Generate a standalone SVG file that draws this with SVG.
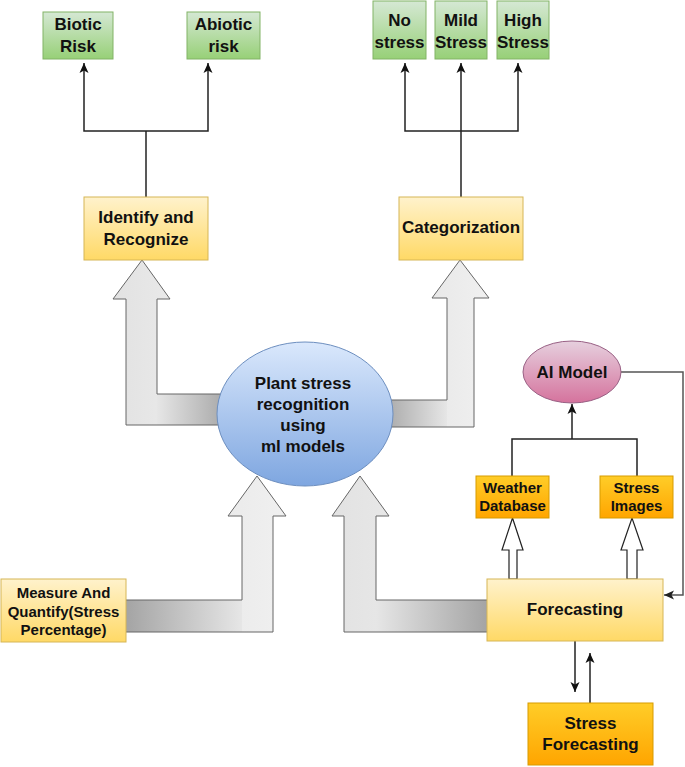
<svg xmlns="http://www.w3.org/2000/svg" width="685" height="767" viewBox="0 0 685 767">
<style>
.t{font-family:"Liberation Sans",Arial,sans-serif;font-weight:bold;font-size:17px;fill:#111;text-anchor:middle}
.s{font-size:15px}
.gb{fill:url(#gGreen);stroke:#82b366;stroke-width:1}
.yb{fill:url(#gYellow);stroke:#d6b656;stroke-width:1}
.ob{fill:url(#gOrange);stroke:#d79b00;stroke-width:1}
.ln{fill:none;stroke:#222;stroke-width:1.5}
.ln2{fill:none;stroke:#555;stroke-width:1.5}
.bo{fill:none;stroke:#666;stroke-width:1}
.hollow{fill:#fff;stroke:#222;stroke-width:1.2}
</style>
<defs>
<linearGradient id="gGreen" x1="0" y1="0" x2="0" y2="1"><stop offset="0" stop-color="#d5e8d4"/><stop offset="1" stop-color="#97d077"/></linearGradient>
<linearGradient id="gYellow" x1="0" y1="0" x2="0" y2="1"><stop offset="0" stop-color="#fff2cc"/><stop offset="1" stop-color="#ffd966"/></linearGradient>
<linearGradient id="gOrange" x1="0" y1="0" x2="0" y2="1"><stop offset="0" stop-color="#ffcd28"/><stop offset="1" stop-color="#ffa500"/></linearGradient>
<linearGradient id="gBlue" x1="0" y1="0" x2="0" y2="1"><stop offset="0" stop-color="#dae8fc"/><stop offset="1" stop-color="#7ea6e0"/></linearGradient>
<linearGradient id="gPink" x1="0" y1="0" x2="0" y2="1"><stop offset="0" stop-color="#e6d0de"/><stop offset="1" stop-color="#d5739d"/></linearGradient>
<linearGradient id="gLight" x1="0" y1="0" x2="1" y2="0"><stop offset="0" stop-color="#e2e2e2"/><stop offset="1" stop-color="#f0f0f0"/></linearGradient>
<linearGradient id="gDL" x1="0" y1="0" x2="1" y2="0"><stop offset="0" stop-color="#a4a4a4"/><stop offset="1" stop-color="#e6e6e6"/></linearGradient>
<linearGradient id="gLD" x1="0" y1="0" x2="1" y2="0"><stop offset="0" stop-color="#e6e6e6"/><stop offset="1" stop-color="#a4a4a4"/></linearGradient>
<marker id="ah" viewBox="0 0 10 10" refX="10" refY="5" markerWidth="10" markerHeight="10" markerUnits="userSpaceOnUse" orient="auto">
<path d="M0,0.5 L10,5 L0,9.5 L2.5,5 Z" fill="#111"/>
</marker>
<marker id="ahg" viewBox="0 0 10 10" refX="10" refY="5" markerWidth="10" markerHeight="10" markerUnits="userSpaceOnUse" orient="auto">
<path d="M0,0.5 L10,5 L0,9.5 L2.5,5 Z" fill="#222"/>
</marker>
</defs>

<g id="connectors">
<g id="bigArrowIdentify">
<path d="M142,260 L170,299 L157,299 L157,394 L230,394 L230,425 L126,425 L126,299 L113,299 Z" fill="url(#gLight)"/>
<rect x="157" y="394" width="73" height="31" fill="url(#gLD)"/>
<path class="bo" d="M230,394 L157,394 L157,299 L170,299 L142,260 L113,299 L126,299 L126,425 L230,425"/>
</g>
<g id="bigArrowCategorization">
<path d="M460,260 L489,298 L474,298 L474,427 L380,427 L380,400 L447,400 L447,298 L432,298 Z" fill="url(#gLight)"/>
<rect x="380" y="400" width="67" height="27" fill="url(#gDL)"/>
<path class="bo" d="M380,400 L447,400 L447,298 L432,298 L460,260 L489,298 L474,298 L474,427 L380,427"/>
</g>
<g id="bigArrowMeasure">
<path d="M257,476 L286,516 L273,516 L273,632 L126,632 L126,600 L242,600 L242,516 L228,516 Z" fill="url(#gLight)"/>
<rect x="126" y="600" width="116" height="32" fill="url(#gDL)"/>
<path class="bo" d="M126,600 L242,600 L242,516 L228,516 L257,476 L286,516 L273,516 L273,632 L126,632"/>
</g>
<g id="bigArrowForecasting">
<path d="M360,476 L389,516 L376,516 L376,600 L487,600 L487,632 L344,632 L344,516 L332,516 Z" fill="url(#gLight)"/>
<rect x="376" y="600" width="111" height="32" fill="url(#gLD)"/>
<path class="bo" d="M487,600 L376,600 L376,516 L389,516 L360,476 L332,516 L344,516 L344,632 L487,632"/>
</g>

<path class="ln" d="M146,197 L146,131"/>
<path class="ln" d="M146,131 L84,131 L84,63" marker-end="url(#ah)"/>
<path class="ln" d="M146,131 L208,131 L208,63" marker-end="url(#ah)"/>
<path class="ln" d="M461,197 L461,63" marker-end="url(#ah)"/>
<path class="ln" d="M461,131 L405,131 L405,63" marker-end="url(#ah)"/>
<path class="ln" d="M461,131 L518,131 L518,63" marker-end="url(#ah)"/>
<path class="ln" d="M512,476 L512,439 L637,439 L637,476"/>
<path class="ln" d="M572,439 L572,404" marker-end="url(#ah)"/>
<path class="ln2" d="M621,372 L683,372 L683,595 L664,595" marker-end="url(#ahg)"/>
<path class="hollow" d="M509,579 L509,550 L502,550 L512.5,518 L523,550 L517,550 L517,579 Z"/>
<path class="hollow" d="M627,579 L627,550 L621,550 L632,518 L643,550 L637,550 L637,579 Z"/>
<path class="ln" d="M575,641 L575,692" marker-end="url(#ah)"/>
<path class="ln" d="M590,703 L590,653" marker-end="url(#ah)"/>
</g>

<g id="biotic">
<rect class="gb" x="43" y="12" width="70" height="47"/>
<text class="t" x="78" y="30">Biotic</text>
<text class="t" x="78" y="52">Risk</text>
</g>
<g id="abiotic">
<rect class="gb" x="187" y="12" width="73" height="47"/>
<text class="t" x="223.5" y="30">Abiotic</text>
<text class="t" x="223.5" y="52">risk</text>
</g>
<g id="noStress">
<rect class="gb" x="373" y="1" width="53" height="58"/>
<text class="t" x="399.5" y="26">No</text>
<text class="t" x="399.5" y="48">stress</text>
</g>
<g id="mildStress">
<rect class="gb" x="435" y="1" width="52" height="58"/>
<text class="t" x="461" y="26">Mild</text>
<text class="t" x="461" y="48">Stress</text>
</g>
<g id="highStress">
<rect class="gb" x="497" y="1" width="52" height="58"/>
<text class="t" x="523" y="26">High</text>
<text class="t" x="523" y="48">Stress</text>
</g>
<g id="identify">
<rect class="yb" x="84" y="197" width="124" height="63"/>
<text class="t" x="146" y="223">Identify and</text>
<text class="t" x="146" y="245">Recognize</text>
</g>
<g id="categorization">
<rect class="yb" x="399" y="197" width="124" height="63"/>
<text class="t" x="461" y="233">Categorization</text>
</g>
<g id="plantStress">
<ellipse cx="305" cy="414" rx="88" ry="72" fill="url(#gBlue)" stroke="#6c8ebf" stroke-width="1"/>
<text class="t" x="303" y="389">Plant stress</text>
<text class="t" x="303" y="410">recognition</text>
<text class="t" x="303" y="431">using</text>
<text class="t" x="303" y="452">ml models</text>
</g>
<g id="aiModel">
<ellipse cx="572" cy="372" rx="49" ry="31" fill="url(#gPink)" stroke="#996185" stroke-width="1"/>
<text class="t" x="572" y="378">AI Model</text>
</g>
<g id="weather">
<rect class="ob" x="476" y="476" width="73" height="42"/>
<text class="t s" x="512.5" y="493">Weather</text>
<text class="t s" x="512.5" y="511">Database</text>
</g>
<g id="stressImages">
<rect class="ob" x="600" y="476" width="73" height="42"/>
<text class="t s" x="636.5" y="493">Stress</text>
<text class="t s" x="636.5" y="511">Images</text>
</g>
<g id="measure">
<rect class="yb" x="1" y="579" width="125" height="63"/>
<text class="t s" x="63.5" y="598">Measure And</text>
<text class="t s" x="63.5" y="617">Quantify(Stress</text>
<text class="t s" x="63.5" y="635">Percentage)</text>
</g>
<g id="forecasting">
<rect class="yb" x="487" y="579" width="176" height="62"/>
<text class="t" x="575" y="615">Forecasting</text>
</g>
<g id="stressForecasting">
<rect class="ob" x="528" y="703" width="125" height="62"/>
<text class="t" x="590.5" y="729">Stress</text>
<text class="t" x="590.5" y="750">Forecasting</text>
</g>
</svg>
